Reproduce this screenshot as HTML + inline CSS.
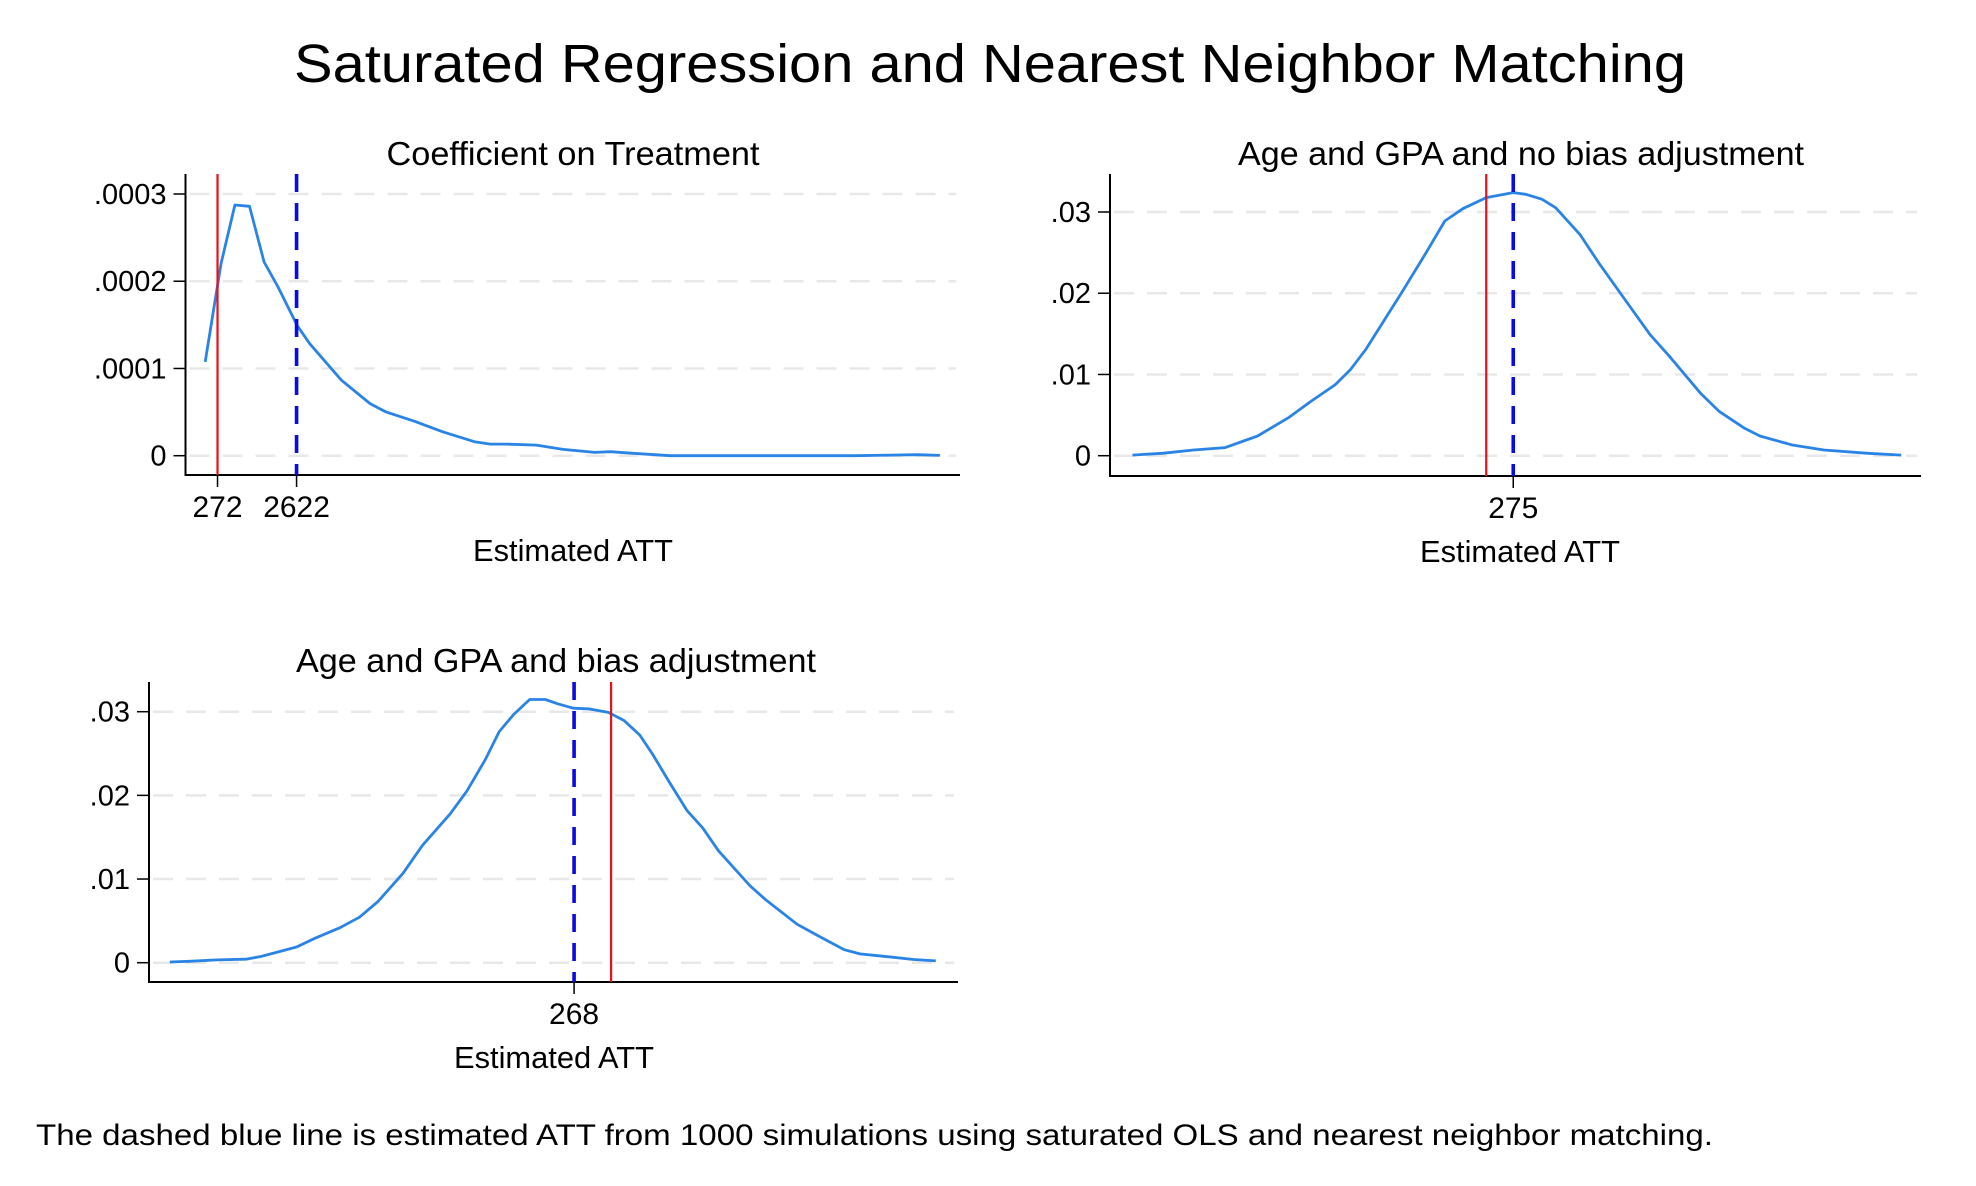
<!DOCTYPE html>
<html><head><meta charset="utf-8"><title>Saturated Regression and Nearest Neighbor Matching</title>
<style>html,body{margin:0;padding:0;background:#fff}svg{display:block}text{font-family:"Liberation Sans",Arial,sans-serif;fill:#000}</style>
</head><body>
<svg id="fig" width="1976" height="1186" viewBox="0 0 1976 1186" xmlns="http://www.w3.org/2000/svg">
<rect x="0" y="0" width="1976" height="1186" fill="#fff"/>
<text x="990" y="82" font-size="54" text-anchor="middle" textLength="1392" lengthAdjust="spacingAndGlyphs">Saturated Regression and Nearest Neighbor Matching</text>
<text x="36" y="1145" font-size="30" textLength="1677" lengthAdjust="spacingAndGlyphs">The dashed blue line is estimated ATT from 1000 simulations using saturated OLS and nearest neighbor matching.</text>
</svg>
<script>
// Panel 1: Coefficient on Treatment
const p1X = [-94,376,790,1224,1658,2072,2637,3009,3955,4803,5270,6121,6966,7909,8379,8849,9753,10545,11488,11958,12619,13746,16382,19205,21088,21748];
const p1Y = [0.0001075,0.00022,0.0002874,0.0002859,0.000222,0.0001933,0.0001494,0.0001285,0.0000865,0.0000598,0.0000503,0.0000396,0.0000274,0.000016,0.0000133,0.0000133,0.0000122,0.0000072,0.0000038,0.0000046,0.0000027,0,0,0,0.0000011,0.0000004];
const p1YTicks = [0,0.0001,0.0002,0.0003];
const p1YTickLabels = ["0",".0001",".0002",".0003"];
const p1XTicks = [272,2622];
const p1XTickLabels = ["272","2622"];
const p1True = 272;
const p1Est = 2622;

// Panel 2: Age and GPA and no bias adjustment
const p2X = [232.7,236,239.5,243,246.6,250.1,252.5,255.2,256.9,258.6,260.6,262.7,265.2,267.4,269.4,272,275,276.4,278.2,279.7,282.4,284.5,287,290.2,292.3,295.8,297.9,300.7,302.4,306,309.5,314.4,318.1];
const p2Y = [0.00008,0.00029,0.0007,0.001,0.00243,0.00473,0.00667,0.00872,0.01058,0.01305,0.01654,0.02025,0.02477,0.02889,0.03041,0.03177,0.03239,0.03218,0.03156,0.03053,0.02724,0.02374,0.01984,0.0149,0.0123,0.0077,0.00543,0.00337,0.00243,0.00132,0.0007,0.00029,0.00008];
const p2YTicks = [0,0.01,0.02,0.03];
const p2YTickLabels = ["0",".01",".02",".03"];
const p2XTicks = [275];
const p2XTickLabels = ["275"];
const p2True = 272;
const p2Est = 275;

// Panel 3: Age and GPA and bias adjustment
const p3X = [224.3,226.4,229.4,232.5,234.2,238,240,242.7,244.8,246.8,249.5,251.6,254.6,256.4,258.4,259.9,261.5,263.2,264.9,266.2,267.9,269.6,271.7,273.4,275.1,276.5,278.2,280.2,281.9,283.6,287,288.7,292.1,294.5,297.2,298.9,302,304.7,307.1];
const p3Y = [0.00008,0.00017,0.00033,0.00042,0.00075,0.00188,0.00293,0.00418,0.00544,0.00732,0.01067,0.01402,0.01778,0.0205,0.02427,0.02762,0.02971,0.03146,0.03146,0.03096,0.03042,0.03033,0.02992,0.02895,0.0272,0.0249,0.02176,0.0182,0.01611,0.01339,0.0092,0.00753,0.0046,0.00314,0.00155,0.00105,0.00071,0.00038,0.00021];
const p3YTicks = [0,0.01,0.02,0.03];
const p3YTickLabels = ["0",".01",".02",".03"];
const p3XTicks = [268];
const p3XTickLabels = ["268"];
const p3True = 272;
const p3Est = 268;

const NS = "http://www.w3.org/2000/svg";
const svg = document.getElementById('fig');
function mk(tag, attrs, parent){
  const e = document.createElementNS(NS, tag);
  for (const k in attrs) e.setAttribute(k, attrs[k]);
  (parent||svg).appendChild(e);
  return e;
}
function panel(cfg){
  const g = mk('g', {});
  
  
  const sx = v => cfg.left + (v - cfg.xmin) / (cfg.xmax - cfg.xmin) * (cfg.right - cfg.left);
  const sy = v => cfg.y0 + (v - 0) / (cfg.yref) * (cfg.yrefPx - cfg.y0);
  cfg.yTicks.forEach((t, i) => {
    const y = sy(t);
    const gl = mk('line', {x1: cfg.left + 4, x2: cfg.right - 4, y1: y, y2: y, stroke: '#e8e8e8', 'stroke-width': 2.5, 'stroke-dasharray': '20 13'}, g);
    
    
    const tk = mk('line', {x1: cfg.left - 12, x2: cfg.left, y1: y, y2: y, stroke: '#000', 'stroke-width': 1.5}, g);
    
    
    const tl = mk('text', {x: cfg.left - 19, y: y + 10, 'font-size': 29, 'text-anchor': 'end'}, g);
    tl.textContent = cfg.yLabels[i];
    
    
  });
  const ya = mk('line', {x1: cfg.left, x2: cfg.left, y1: cfg.top, y2: cfg.bottom + 1, stroke: '#000', 'stroke-width': 2}, g);
  
  
  const xa = mk('line', {x1: cfg.left - 1, x2: cfg.right, y1: cfg.bottom, y2: cfg.bottom, stroke: '#000', 'stroke-width': 2}, g);
  
  
  cfg.xTicks.forEach((t, i) => {
    const x = sx(t);
    const tk = mk('line', {x1: x, x2: x, y1: cfg.bottom, y2: cfg.bottom + 12, stroke: '#000', 'stroke-width': 1.5}, g);
    
    
    const tl = mk('text', {x: x, y: cfg.bottom + 42, 'font-size': 30, 'text-anchor': 'middle'}, g);
    tl.textContent = cfg.xLabels[i];
    
    
  });
  const d = cfg.xs.map((v, i) => (i ? 'L' : 'M') + sx(v).toFixed(1) + ' ' + sy(cfg.ys[i]).toFixed(1)).join(' ');
  const c = mk('path', {d: d, fill: 'none', stroke: '#2a84e6', 'stroke-width': 2.8, 'stroke-linejoin': 'round'}, g);
  
  
  const rx = sx(cfg.trueV);
  const r = mk('line', {x1: rx, x2: rx, y1: cfg.top, y2: cfg.bottom, stroke: '#e8101a', 'stroke-width': 2.2}, g);
  
  
  const bx = sx(cfg.estV);
  const b = mk('line', {x1: bx, x2: bx, y1: cfg.top, y2: cfg.bottom, stroke: '#0a0ae6', 'stroke-width': 3.6, 'stroke-dasharray': '18 11'}, g);
  
  
  const t = mk('text', {x: cfg.titleX, y: cfg.titleY, 'font-size': 33, 'text-anchor': 'middle', textLength: cfg.titleW, lengthAdjust: 'spacingAndGlyphs'}, g);
  t.textContent = cfg.title;
  
  
  const xt = mk('text', {x: cfg.xTitleX, y: cfg.bottom + 86, 'font-size': 31, 'text-anchor': 'middle', textLength: 200, lengthAdjust: 'spacingAndGlyphs'}, g);
  xt.textContent = 'Estimated ATT';
  
  
}
panel({name: 'panel-coefficient-on-treatment', left: 185.5, right: 960, top: 174, bottom: 475,
  xmin: -680, xmax: 22346, y0: 455.7, yref: 0.0003, yrefPx: 194,
  xs: p1X, ys: p1Y, yTicks: p1YTicks, yLabels: p1YTickLabels, xTicks: p1XTicks, xLabels: p1XTickLabels,
  trueV: p1True, estV: p1Est, title: 'Coefficient on Treatment', titleX: 573, titleY: 165, titleW: 373, xTitleX: 573});
panel({name: 'panel-no-bias-adjustment', left: 1110, right: 1921, top: 174, bottom: 476,
  xmin: 230.2, xmax: 320.3, y0: 455.7, yref: 0.03, yrefPx: 212,
  xs: p2X, ys: p2Y, yTicks: p2YTicks, yLabels: p2YTickLabels, xTicks: p2XTicks, xLabels: p2XTickLabels,
  trueV: p2True, estV: p2Est, title: 'Age and GPA and no bias adjustment', titleX: 1521, titleY: 165, titleW: 566, xTitleX: 1520});
panel({name: 'panel-bias-adjustment', left: 149, right: 958, top: 682, bottom: 982,
  xmin: 222.05, xmax: 309.5, y0: 962.7, yref: 0.03, yrefPx: 711.7,
  xs: p3X, ys: p3Y, yTicks: p3YTicks, yLabels: p3YTickLabels, xTicks: p3XTicks, xLabels: p3XTickLabels,
  trueV: p3True, estV: p3Est, title: 'Age and GPA and bias adjustment', titleX: 556, titleY: 672, titleW: 520, xTitleX: 554});
</script>
</body></html>
